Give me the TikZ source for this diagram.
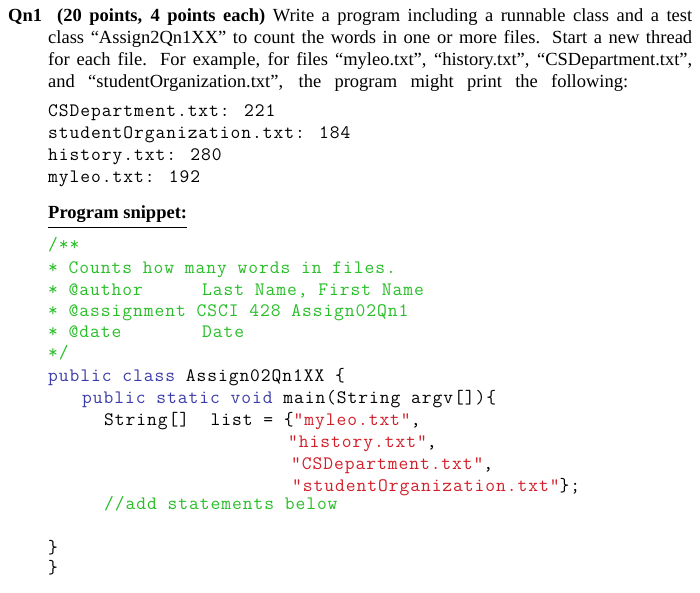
\documentclass[tikz,border=0pt]{standalone}
\usepackage{fontspec}
\setmainfont{Liberation Serif}
\newfontfamily\codeB[LetterSpace=5]{Latin Modern Mono}
\definecolor{cgreen}{RGB}{40,190,40}
\definecolor{cblue}{RGB}{60,60,170}
\definecolor{cred}{RGB}{210,30,40}
\tikzset{
 tl/.style={anchor=base west,inner sep=0pt,font=\fontsize{18.5}{20}\selectfont},
 cl/.style={anchor=base west,inner sep=0pt,font=\fontsize{19}{20}\codeB},
 ol/.style={anchor=base west,inner sep=0pt,font=\fontsize{19}{20}\codeB},
}
\newcommand{\jl}[2]{\hbox to #1pt{#2}}
\begin{document}
\begin{tikzpicture}[x=1pt,y=-1pt]
\useasboundingbox[fill=white] (0,0) rectangle (700,592);
\node[tl] (t1) at (8,21) {\jl{684}{\textbf{Qn1 \ (20 points, 4 points each)} Write a program including a runnable class and a test}};
\node[tl] (t2) at (48,43) {\jl{644}{class “Assign2Qn1XX” to count the words in one or more files. Start a new thread}};
\node[tl] (t3) at (48,65) {\jl{644}{for each file. For example, for files “myleo.txt”, “history.txt”, “CSDepartment.txt”,}};
\node[tl] (t4) at (48,87) {\jl{580}{and “studentOrganization.txt”, the program might print the following:}};
\node[ol] (o1) at (48,116) {CSDepartment.txt: 221};
\node[ol] (o2) at (48,138) {studentOrganization.txt: 184};
\node[ol] (o3) at (48,160) {history.txt: 280};
\node[ol] (o4) at (48,182) {myleo.txt: 192};
\node[tl,font=\fontsize{18.5}{20}\selectfont\bfseries] (ps) at (48,218) {Program snippet:};
\draw[line width=0.8pt] (ps.south west)++(0,5) -- ([yshift=-5pt]ps.south east);
\node[cl,text=cgreen] (c1) at (48,250) {/**};
\node[cl,text=cgreen] (c2) at (48,273) {* Counts how many words in files.};
\node[cl,text=cgreen] (c3) at (48,295) {* @author};
\node[cl,text=cgreen] (c3b) at (202,295) {Last Name, First Name};
\node[cl,text=cgreen] (c4) at (48,316) {* @assignment CSCI 428 Assign02Qn1};
\node[cl,text=cgreen] (c5) at (48,337) {* @date};
\node[cl,text=cgreen] (c5b) at (202,337) {Date};
\node[cl,text=cgreen] (c6) at (48,358) {*/};
\node[cl] (c7) at (48,381) {\textcolor{cblue}{public class} Assign02Qn1XX \{};
\node[cl] (c8) at (82,403) {\textcolor{cblue}{public static void} main(String argv[])\{};
\node[cl] (c9) at (104,425) {String[]\ \ list = \{\textcolor{cred}{"myleo.txt"},};
\node[cl] (c10) at (288,447) {\textcolor{cred}{"history.txt"},};
\node[cl] (c11) at (291,469) {\textcolor{cred}{"CSDepartment.txt"},};
\node[cl] (c12) at (292,491) {\textcolor{cred}{"studentOrganization.txt"}\};};
\node[cl,text=cgreen] (c13) at (104,509) {//add statements below};
\node[cl] (c14) at (48,553) {\}};
\node[cl] (c15) at (48,573) {\}};
\end{tikzpicture}
\end{document}
